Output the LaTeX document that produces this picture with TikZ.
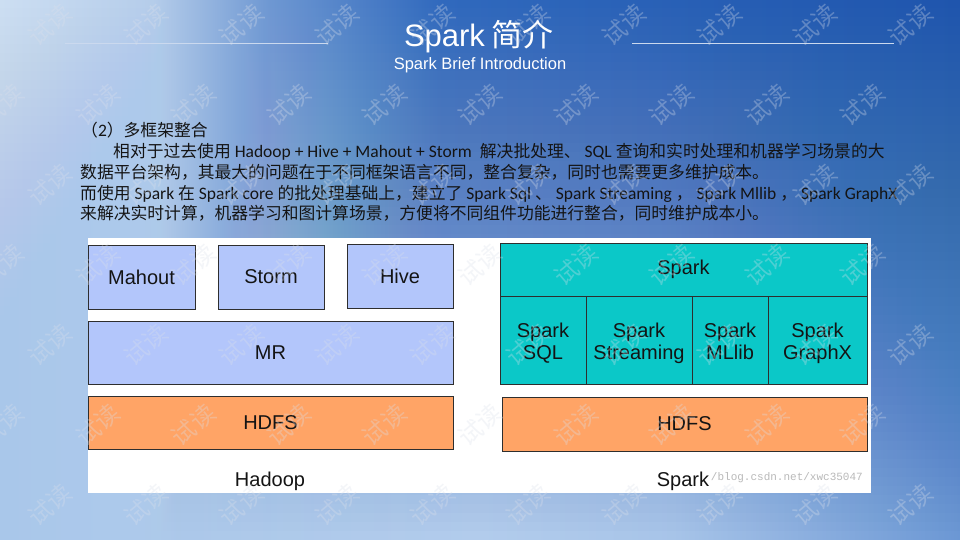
\documentclass[tikz,border=0pt]{standalone}
\usepackage{fontspec}
\setmainfont{Carlito}
\newfontfamily\zh{Noto Sans CJK SC}
\newfontfamily\zhbody[Scale=0.96]{Noto Sans CJK SC}
\newfontfamily\arial{Liberation Sans}
\newfontfamily\mono{Liberation Mono}

\definecolor{topleft}{HTML}{CCDEF2}
\definecolor{topmid}{HTML}{3069BD}
\definecolor{topright}{HTML}{1F55AD}
\definecolor{lowleft}{HTML}{A9C7EA}
\definecolor{lowmid}{HTML}{B6CFEE}
\definecolor{lowright}{HTML}{6E9AD6}
\definecolor{mrblue}{HTML}{B3C6FB}
\definecolor{hdfsorange}{HTML}{FFA466}
\definecolor{sparkteal}{HTML}{0BC8C8}
\definecolor{boxline}{HTML}{2E2E2E}
\definecolor{textdark}{HTML}{141414}
\definecolor{wmgray}{rgb}{0.86,0.88,0.92}

\pgfdeclarehorizontalshading{toprow}{100bp}{color(0bp)=(topleft); color(25bp)=(topleft);
  color(33bp)=(topleft!85!topmid); color(39bp)=(topleft!40!topmid); color(48bp)=(topmid);
  color(75bp)=(topright); color(100bp)=(topright)}
\pgfdeclarehorizontalshading{lowrow}{100bp}{color(0bp)=(lowleft); color(25bp)=(lowleft);
  color(50bp)=(lowmid); color(60bp)=(lowmid!85!lowright); color(75bp)=(lowright); color(100bp)=(lowright)}

\newcommand{\stacked}[2]{\rule{0pt}{23pt}#1\\#2\strut}

\tikzset{
  titleline/.style={draw=white!75!topmid, line width=1pt},
  layer/.style={draw=boxline, line width=1pt, inner sep=0pt, align=center,
    font=\arial\fontsize{20}{22}\selectfont, text=textdark},
  wmark/.style={text=wmgray, opacity=.32, rotate=40,
    font=\zh\fontsize{24}{24}\selectfont}
}

\begin{document}
\begin{tikzpicture}[x=1pt,y=-1pt]
\useasboundingbox (0,0) rectangle (960,540);

\shade[shading=toprow] (0,0) rectangle (960,540);
\foreach \k [evaluate=\k as \op using 1/(61-\k)] in {1,...,59}
  \shade[shading=lowrow, opacity=\op] (0,9*\k) rectangle (960,540);

\draw[titleline] (65,44) -- (328,44);
\draw[titleline] (632,44) -- (894,44);
\node[text=white, font=\arial\fontsize{31}{31}\selectfont] (title) at (479,37) {Spark\hspace{7pt}{\zh 简介}};
\node[text=white, font=\arial\fontsize{16.5}{18}\selectfont] (subtitle) at (480,65) {Spark Brief Introduction};

\begin{scope}[every node/.style={anchor=base west, inner sep=0pt, text=textdark, font=\fontsize{17.5}{20}\selectfont}]
  \node (head)  at (81,137)   {{\zhbody （}2{\zhbody ）多框架整合}};
  \node (line1) at (113,158)  {{\zhbody 相对于过去使用} Hadoop + Hive + Mahout + Storm \ {\zhbody 解决批处理、} SQL {\zhbody 查询和实时处理和机器学习场景的大}};
  \node (line2) at (80,178.5) {\zhbody 数据平台架构，其最大的问题在于不同框架语言不同，整合复杂，同时也需要更多维护成本。};
  \node (line3) at (80,199)   {{\zhbody 而使用} Spark {\zhbody 在} Spark core {\zhbody 的批处理基础上，建立了} Spark Sql {\zhbody 、} Spark Streaming {\zhbody ，} Spark Mllib {\zhbody ，} Spark GraphX};
  \node (line4) at (80,219.5) {\zhbody 来解决实时计算，机器学习和图计算场景，方便将不同组件功能进行整合，同时维护成本小。};
\end{scope}

\fill[white] (88,238) rectangle (871,493);

\begin{scope}[every node/.style={layer}]
  \node[fill=mrblue, minimum width=107, minimum height=64] (mahout) at (141.5,277) {Mahout};
  \node[fill=mrblue, minimum width=106, minimum height=64] (storm)  at (271,277)   {Storm};
  \node[fill=mrblue, minimum width=106, minimum height=64] (hive)   at (400,276)   {Hive};
  \node[fill=mrblue, minimum width=365, minimum height=63] (mr)     at (270.5,352.5) {MR};
  \node[fill=hdfsorange, minimum width=365, minimum height=53] (hdfsl) at (270.5,422.5) {HDFS};

  \node[fill=sparkteal, minimum width=367, minimum height=53] (spark)     at (683.5,269.5) {Spark};
  \node[fill=sparkteal, minimum width=86,  minimum height=88] (sparksql)  at (543,340)   {\stacked{Spark}{SQL}};
  \node[fill=sparkteal, minimum width=106, minimum height=88] (streaming) at (639,340)   {\stacked{Spark}{Streaming}};
  \node[fill=sparkteal, minimum width=76,  minimum height=88] (mllib)     at (730,340)   {\stacked{Spark}{MLlib}};
  \node[fill=sparkteal, minimum width=99,  minimum height=88] (graphx)    at (817.5,340) {\stacked{Spark}{GraphX}};
  \node[fill=hdfsorange, minimum width=365, minimum height=54] (hdfsr)    at (684.5,424) {HDFS};
\end{scope}

\node[text=gray!55, font=\mono\fontsize{11}{12}\selectfont, anchor=east, inner sep=0pt] (blog) at (863,478) {/blog.csdn.net/xwc35047};

\begin{scope}[every node/.style={text=textdark, font=\arial\fontsize{20}{22}\selectfont}]
  \node (hadoop)  at (270,481) {Hadoop};
  \node (sparklb) at (683,481) {Spark};
\end{scope}

\foreach \y in {105,265,425}
  \foreach \k in {0,...,9}
    \node[wmark] at (2+95.6*\k,\y) {试读};
\foreach \y in {25,185,345,505}
  \foreach \k in {0,...,9}
    \node[wmark] at (50+95.6*\k,\y) {试读};

\end{tikzpicture}
\end{document}
